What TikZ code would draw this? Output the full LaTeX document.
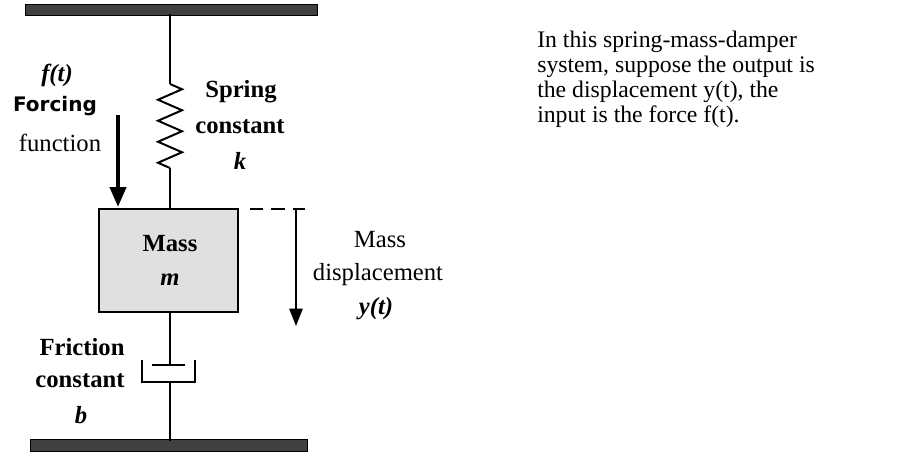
\documentclass[tikz,border=0pt]{standalone}
\usepackage{fontspec}
\setmainfont{Liberation Serif}
\usetikzlibrary{decorations.pathmorphing,arrows.meta}
\begin{document}
\begin{tikzpicture}[x=0.75pt,y=-0.75pt,
  lbl/.style={font=\fontsize{18.5}{19}\selectfont\bfseries, inner sep=0pt},
  lbn/.style={font=\fontsize{18.5}{19}\selectfont, inner sep=0pt},
  grnd/.style={fill=black!75,draw=black},
  txt/.style={font=\fontsize{17.8}{19}\selectfont, anchor=west, inner sep=0pt}]
\useasboundingbox (0,0) rectangle (899,468);
\fill[grnd] (25,4) rectangle (317,15);
\fill[grnd] (30,439) rectangle (307,451);
\node[draw, fill=black!12, minimum width=139*0.75pt, minimum height=103*0.75pt, line width=1.5pt, inner sep=0pt] (mass) at (168.5,260.5) {};
\coordinate (top) at (170,14);
\coordinate (s1) at (170,84);
\coordinate (s2) at (170,168);
\draw[line width=1.2pt] (top) -- (s1);
\draw[line width=1.5pt, decoration={zigzag, segment length=21*0.75pt, amplitude=12*0.75pt}, decorate] (s1) -- (s2);
\draw[line width=1.2pt] (s2) -- (mass.north -| s2);
% damper
\coordinate (d1) at (170,365);
\coordinate (d2) at (170,382);
\draw[line width=1.5pt] (mass.south -| d1) -- (d1);
\draw[line width=2pt] (152,365) -- (185,365);
\draw[line width=2pt] (142,360) -- (142,382) -- (195,382) -- (195,360);
\draw[line width=1.5pt] (d2) -- (170,441);
% force
\coordinate (f0) at (118,115);
\draw[line width=3pt, -{Triangle[length=15pt,width=12pt]}] (f0) -- (118,207);
% displacement
\draw[line width=1.2pt, dash pattern=on 10pt off 6pt] (250,209) -- (305,209);
\draw[line width=1.2pt, -{Triangle[length=13pt,width=10pt]}] (296,209) -- (296,326);
% labels
\node[lbl] (ft) at (57,75) {\itshape f(t)};
\node[lbl] (forc) at (55,106) {\fontspec{DejaVu Sans}\bfseries\fontsize{15}{16}\selectfont Forcing};
\node[lbn] (fun) at (60,143) {function};
\node[lbl] (sp) at (241,92) {Spring};
\node[lbl] (sc) at (240,127) {constant};
\node[lbl] (sk) at (240,161) {\itshape k};
\node[lbl] (mm) at (170,244) {Mass};
\node[lbl] (m) at (170,280) {\itshape m};
\node[lbn] (md) at (380,240) {Mass};
\node[lbn] (mdd) at (378,275) {displacement};
\node[lbl] (yt) at (376,309) {\itshape y(t)};
\node[lbl] (fr) at (82,347) {Friction};
\node[lbl] (fc) at (80,381) {constant};
\node[lbl] (fb) at (81,415) {\itshape b};
\node[txt] (t1) at (537,42) {In this spring-mass-damper};
\node[txt] (t2) at (537,67) {system, suppose the output is};
\node[txt] (t3) at (537,92) {the displacement y(t), the};
\node[txt] (t4) at (537,117) {input is the force f(t).};
\end{tikzpicture}
\end{document}
